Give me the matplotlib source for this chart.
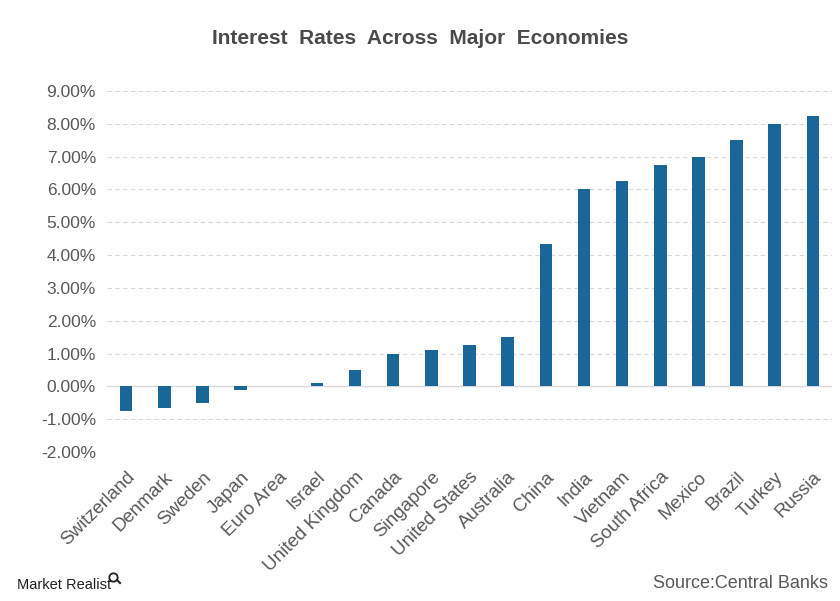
import matplotlib

matplotlib.use("Agg")
import matplotlib.pyplot as plt
from matplotlib.lines import Line2D
from matplotlib.ticker import FuncFormatter

countries = [
    "Switzerland", "Denmark", "Sweden", "Japan", "Euro Area", "Israel",
    "United Kingdom", "Canada", "Singapore", "United States", "Australia",
    "China", "India", "Vietnam", "South Africa", "Mexico", "Brazil",
    "Turkey", "Russia",
]
rates = [
    -0.75, -0.65, -0.50, -0.10, 0.00, 0.10,
    0.50, 1.00, 1.10, 1.25, 1.50,
    4.35, 6.00, 6.25, 6.75, 7.00, 7.50,
    8.00, 8.25,
]
y_ticks = [-2, -1, 0, 1, 2, 3, 4, 5, 6, 7, 8, 9]

plt.rcParams["font.family"] = ["Liberation Sans", "DejaVu Sans"]
text_color = "#595959"

fig = plt.figure(figsize=(8.4, 6.01), dpi=100)
ax = fig.add_axes([107 / 840, 1 - 452 / 601, (832 - 107) / 840, (452 - 91) / 601])

x = range(len(countries))
ax.bar(x, rates, width=0.33, color="#1b6698", zorder=3)

ax.set_ylim(-2, 9)
ax.set_xlim(-0.5, len(countries) - 0.5)
ax.set_yticks(y_ticks)
ax.yaxis.set_major_formatter(FuncFormatter(lambda v, _: f"{v:.2f}%"))
ax.grid(axis="y", color="#d9d9d9", linestyle=(0, (4, 3)), linewidth=0.8, zorder=0)
ax.axhline(0, color="#d9d9d9", linewidth=1.0, zorder=1)

for s in ax.spines.values():
    s.set_visible(False)
ax.tick_params(axis="both", length=0, colors=text_color, labelsize=12.5)
ax.tick_params(axis="y", pad=8)

ax.set_xticks(list(x))
ax.set_xticklabels(countries, rotation=45, ha="right", rotation_mode="anchor",
                   fontsize=13.5)
ax.tick_params(axis="x", pad=12)

fig.text(0.5, 1 - 38 / 601, "Interest  Rates  Across  Major  Economies",
         ha="center", va="center", fontsize=15, fontweight="bold", color="#4a4a4a")
fig.text(828 / 840, 1 - 583 / 601, "Source:Central Banks", ha="right", va="center",
         fontsize=13, color=text_color)
fig.text(17 / 840, 1 - 585 / 601, "Market Realist", ha="left", va="center",
         fontsize=10.5, color="#222222")

# small magnifier mark next to the logo text
fig.add_artist(Line2D([113 / 840], [1 - 577 / 601], marker="o", markersize=6,
                      markerfacecolor="none", markeredgecolor="#222222",
                      markeredgewidth=1.3, transform=fig.transFigure))
fig.add_artist(Line2D([117 / 840, 120 / 840], [1 - 580 / 601, 1 - 583 / 601],
                      color="#222222", linewidth=1.5, transform=fig.transFigure))

fig.savefig("out.png", dpi=100)
